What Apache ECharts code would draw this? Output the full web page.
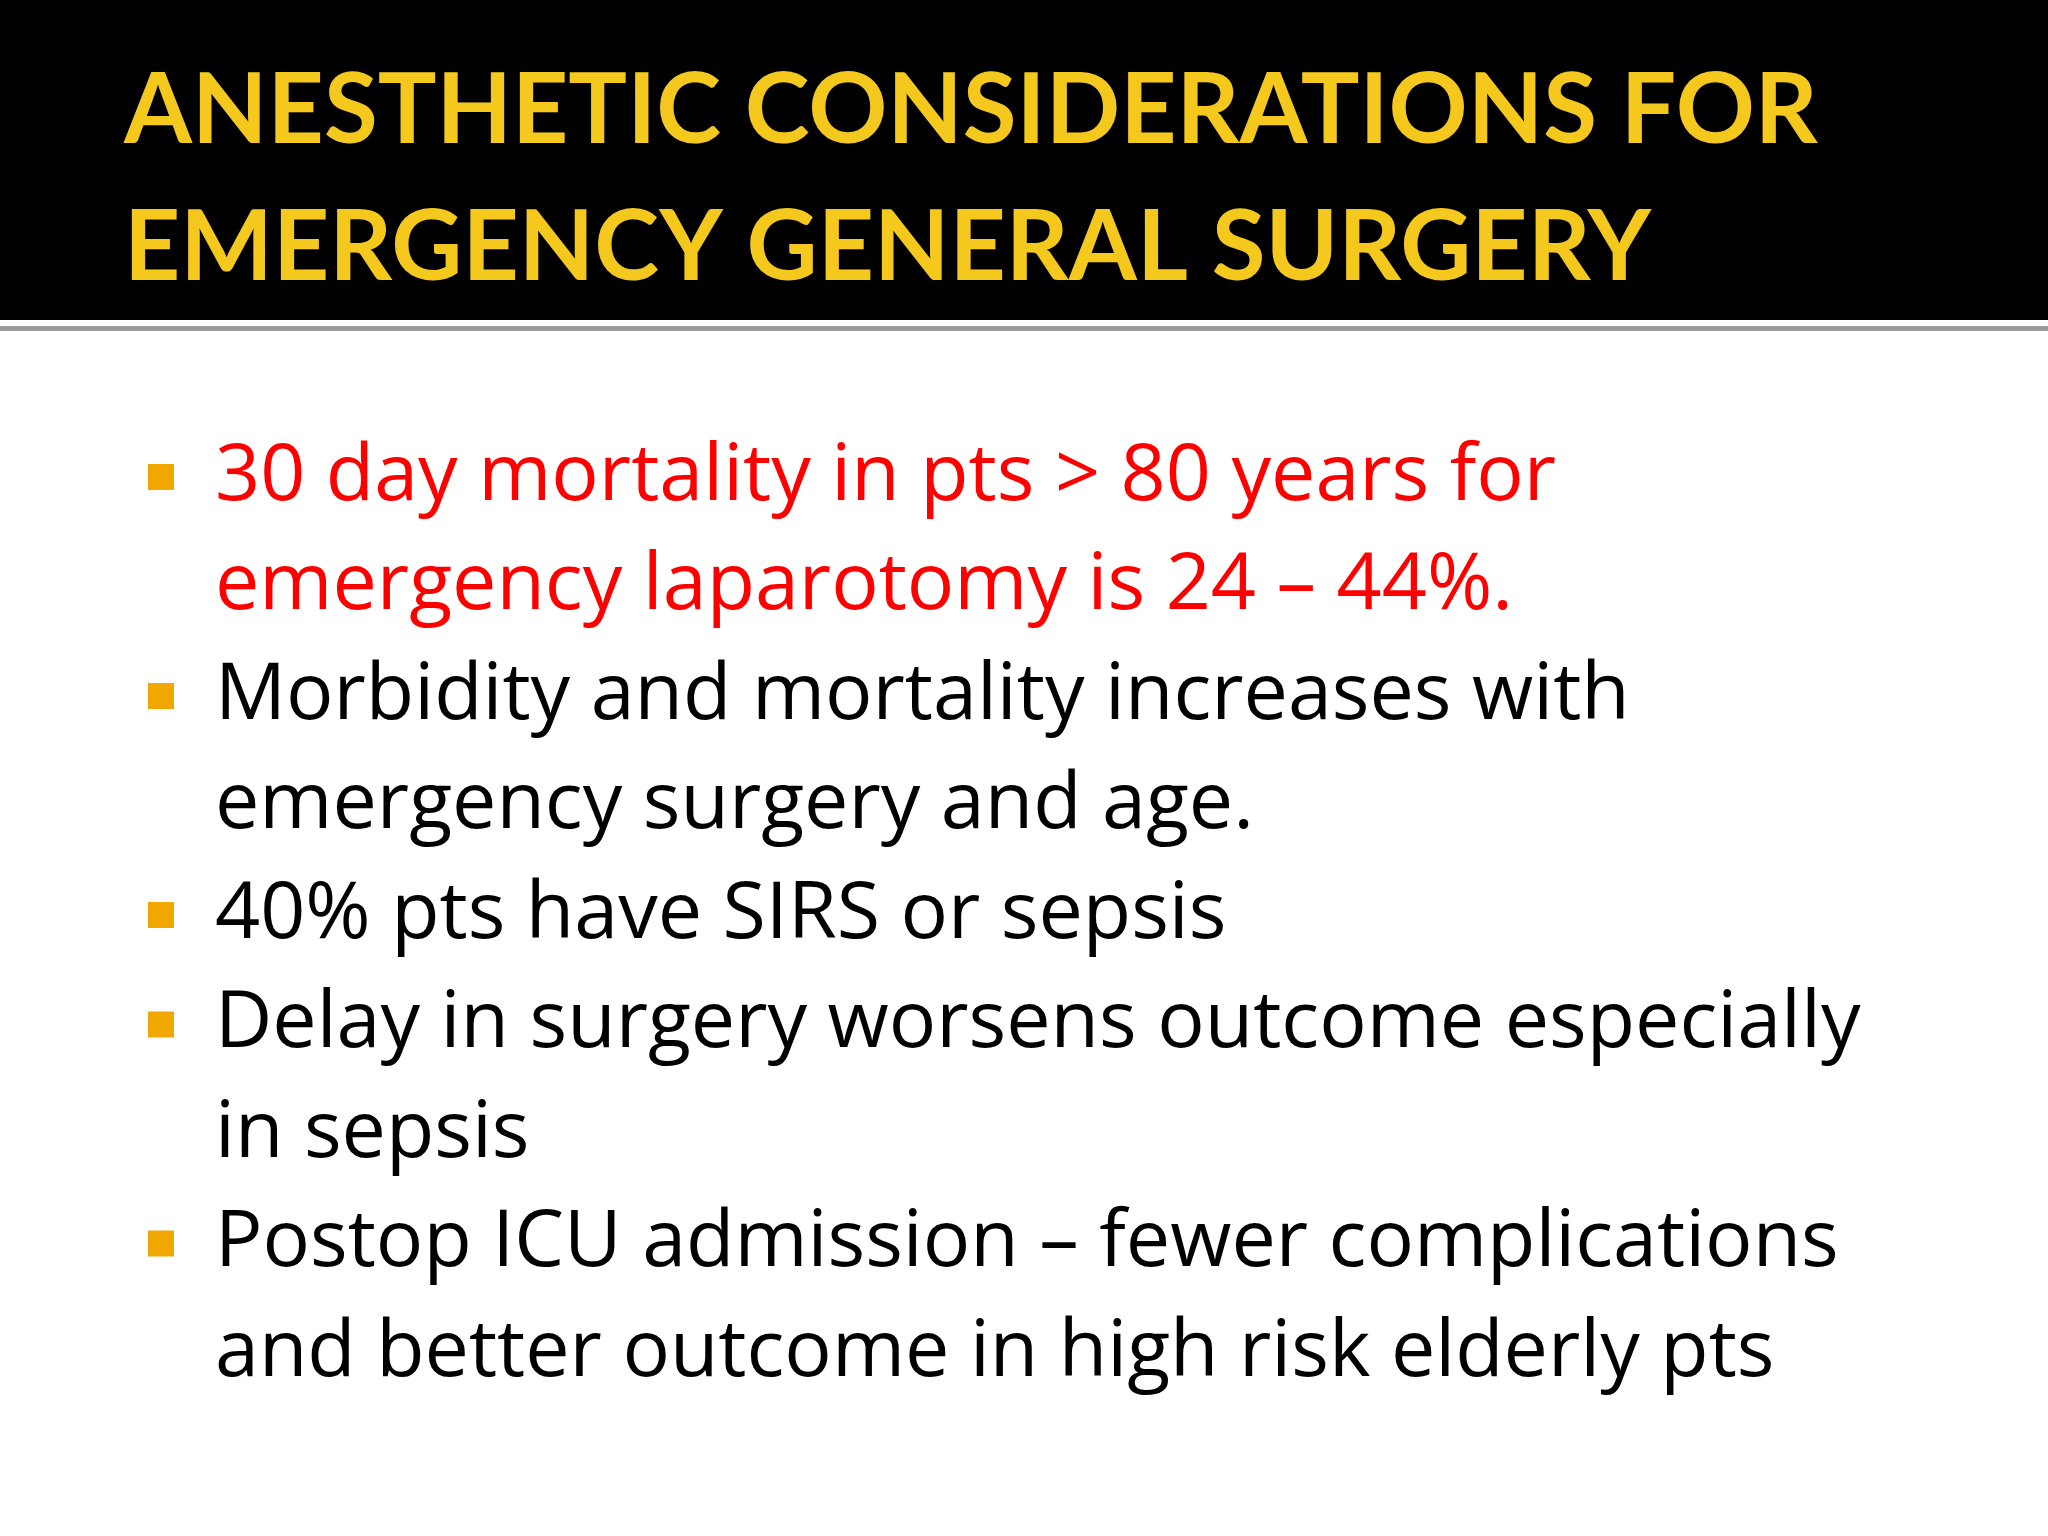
<!DOCTYPE html>
<html><head><meta charset="utf-8">
<script src="https://cdn.jsdelivr.net/npm/echarts@6/dist/echarts.min.js"></script>
<style>html,body{margin:0;padding:0;background:#fff}#c{width:2048px;height:1536px}</style>
</head><body><div id="c"></div>
<script>
var titleLines = ['ANESTHETIC CONSIDERATIONS FOR', 'EMERGENCY GENERAL SURGERY'];
// each bullet: its text lines and colour
var bulletLines = [
    ['30 day mortality in pts > 80 years for', 'emergency laparotomy is 24 – 44%.'],
    ['Morbidity and mortality increases with', 'emergency surgery and age.'],
    ['40% pts have SIRS or sepsis'],
    ['Delay in surgery worsens outcome especially', 'in sepsis'],
    ['Postop ICU admission – fewer complications', 'and better outcome in high risk elderly pts']
];
var bulletColors = ['#ff0000', '#000', '#000', '#000', '#000'];

var myChart = echarts.init(document.getElementById('c'));
var els = [];
els.push({type: 'rect', shape: {x: 0, y: 0, width: 2048, height: 320}, style: {fill: '#000'}});
els.push({type: 'rect', shape: {x: 0, y: 326, width: 2048, height: 5}, style: {fill: '#9a9a9a'}});
titleLines.forEach(function (t, i) {
    els.push({type: 'text', x: 124, y: 111 + i * 137, style: {
        text: t, fill: '#f4c81c', font: 'bold 98px Lato', textVerticalAlign: 'middle'
    }});
});
var y = 477, step = 109.5;
bulletLines.forEach(function (lines, b) {
    els.push({type: 'rect', shape: {x: 148, y: y - 13, width: 26, height: 26}, style: {fill: '#f0a800'}});
    lines.forEach(function (t) {
        els.push({type: 'text', x: 215, y: y, style: {
            text: t, fill: bulletColors[b], font: '79px "Open Sans"', textVerticalAlign: 'middle'
        }});
        y += step;
    });
});
myChart.setOption({backgroundColor: '#fff', graphic: {elements: els}});
</script></body></html>
